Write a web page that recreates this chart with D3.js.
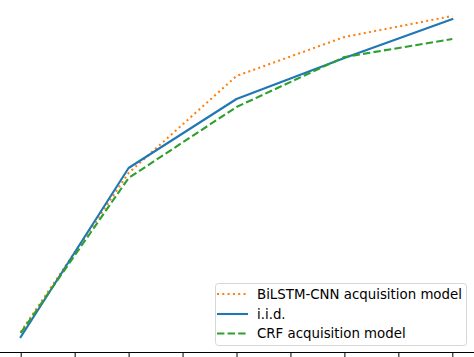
<!DOCTYPE html>
<html>
<head>
<meta charset="utf-8">
<script src="https://cdn.jsdelivr.net/npm/d3@7"></script>
<style>
html,body{margin:0;padding:0;background:#fff;}
svg{display:block;}
</style>
</head>
<body>
<svg id="chart" width="474" height="357"></svg>
<script>
const xTicks = [0, 1, 2, 3, 4, 5, 6, 7, 8];
const xData = [0, 2, 4, 6, 8];
const bilstmValues = [0.525, 0.684, 0.781, 0.820, 0.841];
const iidValues = [0.520, 0.689, 0.758, 0.799, 0.838];
const crfValues = [0.524, 0.679, 0.750, 0.800, 0.818];
const seriesNames = ["BiLSTM-CNN acquisition model", "i.i.d.", "CRF acquisition model"];
const seriesColors = ["#ff7f0e", "#1f77b4", "#2ca02c"];
const seriesDashes = ["2,3.3", null, "7.4,3.2"];

const series = [
  {name: seriesNames[0], values: bilstmValues, color: seriesColors[0], dash: seriesDashes[0]},
  {name: seriesNames[1], values: iidValues, color: seriesColors[1], dash: seriesDashes[1]},
  {name: seriesNames[2], values: crfValues, color: seriesColors[2], dash: seriesDashes[2]}
];

const svg = d3.select("#chart");
const x = d3.scaleLinear().domain([-0.4, 8.4]).range([20.7 - 0.4*53.95, 20.7 + 8.4*53.95]);
const y = d3.scaleLinear().domain([0.5, 0.857]).range([357, 0]);
const axisY = 352;

const line = d3.line().x((d, i) => x(xData[i])).y(d => y(d));
[0, 1, 2].forEach(k => {
  const s = series[k];
  svg.append("path")
    .datum(s.values)
    .attr("d", line)
    .attr("fill", "none")
    .attr("stroke", s.color)
    .attr("stroke-width", 2.1)
    .attr("stroke-dasharray", s.dash)
    .attr("stroke-linecap", s.dash ? "butt" : "square")
    .attr("stroke-linejoin", "round");
});

const xAxis = d3.axisBottom(x).tickValues(xTicks).tickFormat("").tickSizeOuter(0).tickSizeInner(5);
const gx = svg.append("g").attr("transform", `translate(0,${axisY})`).call(xAxis);
gx.select(".domain").attr("stroke", "#000").attr("stroke-width", 1);
gx.selectAll(".tick line").attr("stroke", "#000").attr("stroke-width", 1);

const lg = svg.append("g");
lg.append("rect")
  .attr("x", 215.5).attr("y", 283.5).attr("width", 251).attr("height", 62)
  .attr("rx", 3).attr("ry", 3)
  .attr("fill", "#fff").attr("fill-opacity", 0.8)
  .attr("stroke", "#d6d6d6").attr("stroke-width", 1);
const rowY = [294, 314, 333.5];
series.forEach((s, i) => {
  lg.append("line")
    .attr("x1", 217).attr("x2", 248)
    .attr("y1", rowY[i]).attr("y2", rowY[i])
    .attr("stroke", s.color).attr("stroke-width", 2.1)
    .attr("stroke-dasharray", s.dash);
  lg.append("text")
    .attr("x", 257).attr("y", rowY[i])
    .attr("dy", "0.36em")
    .attr("font-family", "DejaVu Sans")
    .attr("font-size", 13.35)
    .attr("fill", "#000")
    .text(s.name);
});
</script>
</body>
</html>
